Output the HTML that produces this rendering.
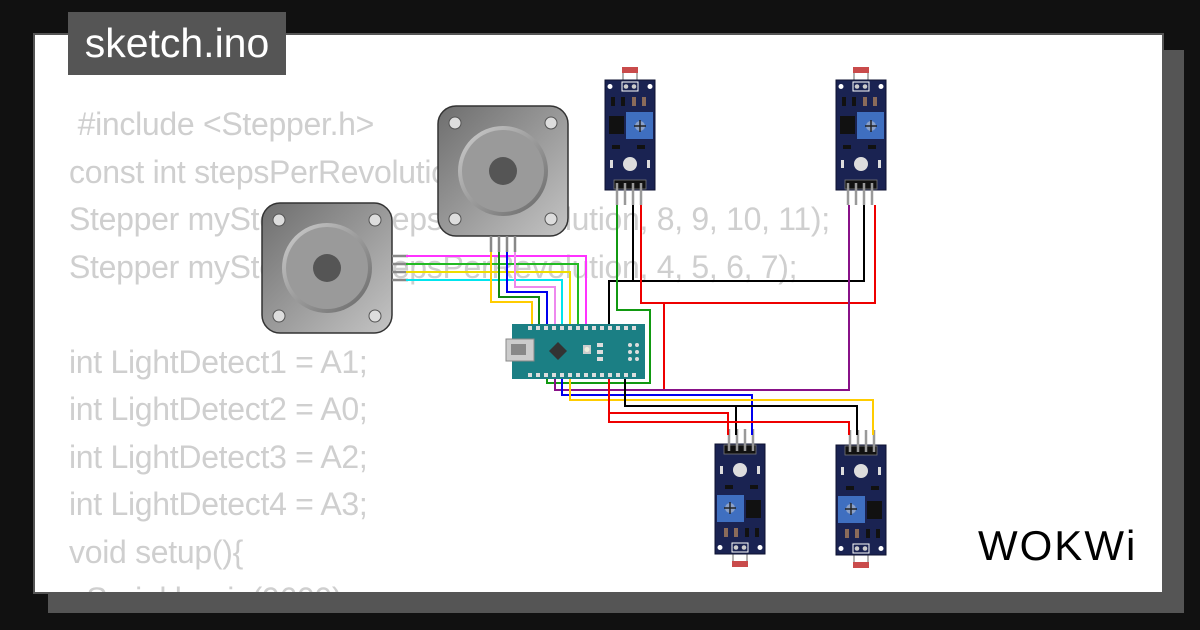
<!DOCTYPE html>
<html><head><meta charset="utf-8"><style>
html,body{margin:0;padding:0;background:#111;}
#wrap{position:relative;width:1200px;height:630px;overflow:hidden;background:#111;font-family:"Liberation Sans",sans-serif;}
#shadow{position:absolute;left:48px;top:50px;width:1136px;height:563px;background:#555;}
#panel{position:absolute;left:33px;top:33px;width:1131px;height:561px;background:#fff;border:2px solid #555;box-sizing:border-box;overflow:hidden;}
#code{position:absolute;left:34px;top:66px;color:#cfcfcf;font-size:32px;line-height:47.5px;white-space:pre;letter-spacing:-0.3px;}
#tab{position:absolute;left:68px;top:12px;width:218px;height:63px;background:#555;color:#fff;font-size:41px;line-height:63px;text-align:center;}
svg{position:absolute;left:0;top:0;}
#logo{position:absolute;left:978px;top:522px;font-size:42px;color:#000;letter-spacing:2px;}
</style></head><body><div id="wrap">
<div id="shadow"></div>
<div id="panel"><div id="code"> #include &lt;Stepper.h&gt;
const int stepsPerRevolution = 200;
Stepper myStepper1(stepsPerRevolution, 8, 9, 10, 11);
Stepper myStepper2(stepsPerRevolution, 4, 5, 6, 7);

int LightDetect1 = A1;
int LightDetect2 = A0;
int LightDetect3 = A2;
int LightDetect4 = A3;
void setup(){
  Serial.begin(9600);</div></div>
<div id="tab">sketch.ino</div>
<svg width="1200" height="630" viewBox="0 0 1200 630">
<defs>
<linearGradient id="mg" x1="0" y1="0" x2="1" y2="1"><stop offset="0" stop-color="#6e6e6e"/><stop offset="1" stop-color="#c4c4c4"/></linearGradient>
<linearGradient id="rg" x1="0" y1="0" x2="1" y2="1"><stop offset="0" stop-color="#d0d0d0"/><stop offset="1" stop-color="#666"/></linearGradient>
<g id="motor">
<rect x="0" y="0" width="130" height="130" rx="18" fill="url(#mg)" stroke="#333" stroke-width="1.5"/>
<circle cx="17" cy="17" r="6" fill="#ddd" stroke="#555"/><circle cx="113" cy="17" r="6" fill="#ddd" stroke="#555"/>
<circle cx="17" cy="113" r="6" fill="#ddd" stroke="#555"/><circle cx="113" cy="113" r="6" fill="#ddd" stroke="#555"/>
<circle cx="65" cy="65" r="45" fill="url(#rg)"/><circle cx="65" cy="65" r="41" fill="#9a9a9a"/>
<circle cx="65" cy="65" r="14" fill="#555"/>
</g>
<g id="sens">
<path d="M18,-12 v12 M32,-12 v12" stroke="#999" stroke-width="1.5"/>
<rect x="17" y="-13" width="16" height="6" fill="#c94b4b"/>
<rect x="0" y="0" width="50" height="110" fill="#1a2352" stroke="#0d1230"/>
<rect x="17" y="2" width="16" height="9" fill="none" stroke="#fff" stroke-width="1"/>
<circle cx="21" cy="6.5" r="2.3" fill="#ccc"/><circle cx="29" cy="6.5" r="2.3" fill="#ccc"/>
<circle cx="5" cy="6.5" r="2.5" fill="#fff"/><circle cx="45" cy="6.5" r="2.5" fill="#fff"/>
<rect x="6" y="17" width="4" height="9" fill="#111"/><rect x="16" y="17" width="4" height="9" fill="#111"/>
<rect x="27" y="17" width="4" height="9" fill="#8a6b5a"/><rect x="37" y="17" width="4" height="9" fill="#8a6b5a"/>
<rect x="4" y="36" width="15" height="18" fill="#111"/>
<rect x="21" y="32" width="27" height="27" fill="#3f6fc0"/>
<circle cx="35" cy="46" r="5" fill="#8aa0c8"/><path d="M29,46 h12 M35,40 v12" stroke="#222" stroke-width="1.5"/>
<rect x="7" y="65" width="8" height="4" fill="#111"/><rect x="32" y="65" width="8" height="4" fill="#111"/>
<circle cx="25" cy="84" r="7" fill="#ddd"/>
<rect x="5" y="80" width="3" height="8" fill="#ddd"/><rect x="42" y="80" width="3" height="8" fill="#ddd"/>
<rect x="9" y="100" width="32" height="9" fill="#111" stroke="#777" stroke-width="0.8"/>
<path d="M12,103 v22 M20,103 v22 M28,103 v22 M36,103 v22" stroke="#999" stroke-width="2.5"/>
</g>
</defs>
<use href="#motor" x="438" y="106"/>
<path d="M491,236 v16 M499,236 v16 M507,236 v16 M515,236 v16" stroke="#888" stroke-width="2.5"/>
<use href="#motor" x="262" y="203"/>
<path d="M392,256 h16 M392,264 h16 M392,272 h16 M392,280 h16" stroke="#888" stroke-width="2.5"/>
<use href="#sens" x="605" y="80"/>
<use href="#sens" x="836" y="80"/>
<use href="#sens" transform="rotate(180 740.5 499)" x="716" y="444"/>
<use href="#sens" transform="rotate(180 861 500)" x="836" y="445"/>
<g fill="none" stroke-width="2">
<path d="M406,256 H586 V324" stroke="#ff33ff"/>
<path d="M406,264 H578 V324" stroke="#22bb22"/>
<path d="M406,272 H570 V324" stroke="#eedd00"/>
<path d="M406,280 H562 V324" stroke="#00e5ee"/>
<path d="M491,252 V302 H532 V324" stroke="#ffcc00"/>
<path d="M499,252 V297 H539 V324" stroke="#118811"/>
<path d="M507,252 V292 H547 V324" stroke="#0000ee"/>
<path d="M515,252 V287 H555 V324" stroke="#ee88ee"/>
<path d="M633,205 V281 M609,324 V281 H864 V205" stroke="#000"/>
<path d="M641,205 V303 H875 V205 M664,303 V390 H600" stroke="#ee0000"/>
<path d="M617,205 V310 H650 V383 H547 V379" stroke="#119911"/>
<path d="M849,205 V390 H555 V379" stroke="#881188"/>
<path d="M562,379 V395 H752 V435" stroke="#0000ee"/>
<path d="M570,379 V400 H873 V435" stroke="#ffcc00"/>
<path d="M625,379 V406 H857 V435 M736,406 V435" stroke="#000"/>
<path d="M609,379 V413 H728 V435 M609,413 V422 H849 V435" stroke="#ee0000"/>
</g>
<rect x="512" y="324" width="133" height="55" fill="#1b7f84"/>
<g fill="#ddd">
<rect x="528" y="326" width="4" height="4"/><rect x="536" y="326" width="4" height="4"/><rect x="544" y="326" width="4" height="4"/><rect x="552" y="326" width="4" height="4"/><rect x="560" y="326" width="4" height="4"/><rect x="568" y="326" width="4" height="4"/><rect x="576" y="326" width="4" height="4"/><rect x="584" y="326" width="4" height="4"/><rect x="592" y="326" width="4" height="4"/><rect x="600" y="326" width="4" height="4"/><rect x="608" y="326" width="4" height="4"/><rect x="616" y="326" width="4" height="4"/><rect x="624" y="326" width="4" height="4"/><rect x="632" y="326" width="4" height="4"/>
<rect x="528" y="373" width="4" height="4"/><rect x="536" y="373" width="4" height="4"/><rect x="544" y="373" width="4" height="4"/><rect x="552" y="373" width="4" height="4"/><rect x="560" y="373" width="4" height="4"/><rect x="568" y="373" width="4" height="4"/><rect x="576" y="373" width="4" height="4"/><rect x="584" y="373" width="4" height="4"/><rect x="592" y="373" width="4" height="4"/><rect x="600" y="373" width="4" height="4"/><rect x="608" y="373" width="4" height="4"/><rect x="616" y="373" width="4" height="4"/><rect x="624" y="373" width="4" height="4"/><rect x="632" y="373" width="4" height="4"/>
<rect x="597" y="343" width="6" height="4"/><rect x="597" y="350" width="6" height="4"/><rect x="597" y="357" width="6" height="4"/>
<circle cx="630" cy="345" r="2"/><circle cx="637" cy="345" r="2"/><circle cx="630" cy="352" r="2"/><circle cx="637" cy="352" r="2"/><circle cx="630" cy="359" r="2"/><circle cx="637" cy="359" r="2"/>
</g>
<rect x="506" y="339" width="28" height="22" fill="#ccc" stroke="#888"/>
<rect x="511" y="344" width="15" height="11" fill="#888"/>
<path d="M558,342 l9,9 l-9,9 l-9,-9 z" fill="#333"/>
<rect x="583" y="345" width="8" height="9" fill="#ccc"/><circle cx="587" cy="349.5" r="2.5" fill="#eed"/>
</svg>
<div id="logo">WOKWi</div>
</div></body></html>
